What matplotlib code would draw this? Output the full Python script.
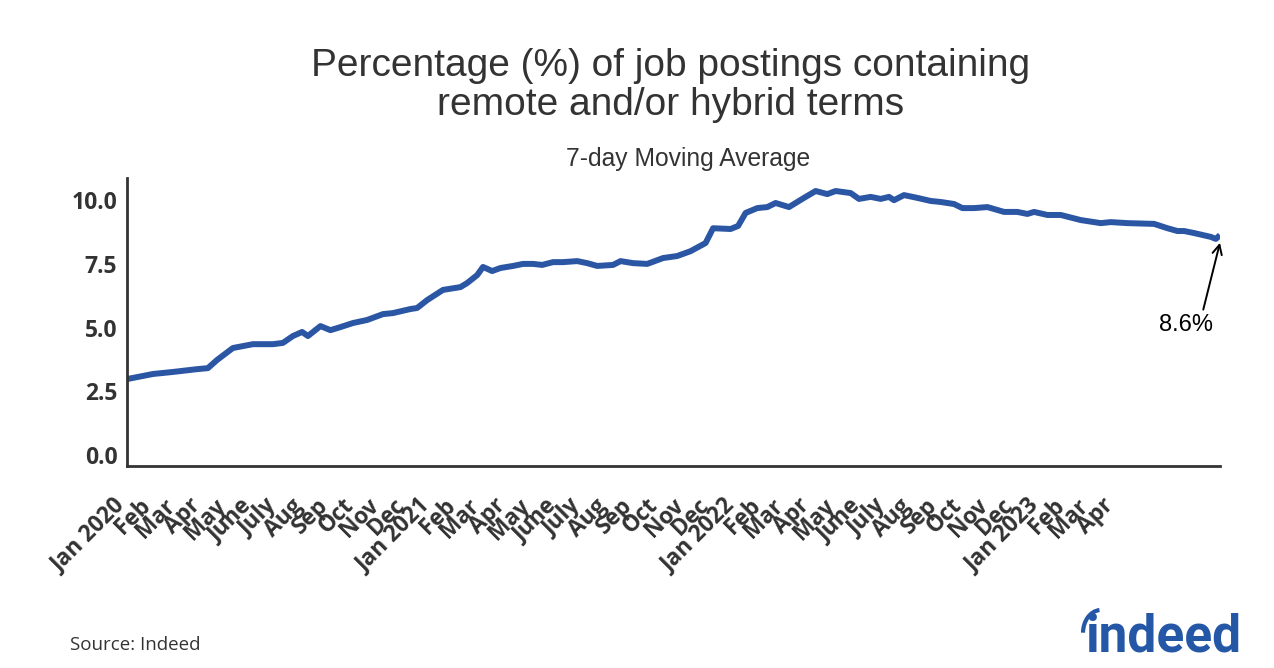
import matplotlib
matplotlib.use("Agg")
import matplotlib.pyplot as plt
import matplotlib.transforms as mtransforms
from matplotlib.patches import Arc
import pandas as pd

# 7-day moving average
dates = ["2020-01-01", "2020-02-01", "2020-02-25", "2020-03-25", "2020-04-07", "2020-04-18",
         "2020-05-07", "2020-05-31", "2020-06-24", "2020-07-06", "2020-07-18", "2020-07-29",
         "2020-08-05", "2020-08-20", "2020-09-01", "2020-09-13", "2020-09-28", "2020-10-15",
         "2020-11-03", "2020-11-15", "2020-12-06", "2020-12-14", "2020-12-26", "2021-01-14",
         "2021-02-04", "2021-02-12", "2021-02-24", "2021-03-03", "2021-03-14", "2021-03-24",
         "2021-04-08", "2021-04-20", "2021-05-02", "2021-05-13", "2021-05-26", "2021-06-07",
         "2021-06-24", "2021-07-06", "2021-07-18", "2021-08-06", "2021-08-15", "2021-08-30",
         "2021-09-16", "2021-10-05", "2021-10-22", "2021-11-07", "2021-11-25", "2021-12-04",
         "2021-12-25", "2022-01-03", "2022-01-12", "2022-01-26", "2022-02-07", "2022-02-17",
         "2022-03-05", "2022-03-23", "2022-04-06", "2022-04-20", "2022-04-30", "2022-05-18",
         "2022-05-28", "2022-06-11", "2022-06-23", "2022-07-03", "2022-07-09", "2022-07-21",
         "2022-08-06", "2022-08-22", "2022-09-03", "2022-09-19", "2022-09-29", "2022-10-13",
         "2022-10-29", "2022-11-18", "2022-12-04", "2022-12-16", "2022-12-24", "2023-01-09",
         "2023-01-25", "2023-02-18", "2023-03-14", "2023-03-26", "2023-04-15", "2023-05-17",
         "2023-06-02", "2023-06-14", "2023-06-22", "2023-07-04", "2023-07-24", "2023-07-30",
         "2023-08-04"]
share = [2.98, 3.18, 3.26, 3.37, 3.41, 3.73,
         4.20, 4.35, 4.35, 4.40, 4.67, 4.83,
         4.67, 5.06, 4.90, 5.02, 5.18, 5.30,
         5.53, 5.57, 5.73, 5.77, 6.08, 6.48,
         6.59, 6.75, 7.06, 7.38, 7.22, 7.34,
         7.42, 7.50, 7.50, 7.46, 7.57, 7.57,
         7.61, 7.53, 7.42, 7.46, 7.61, 7.53,
         7.50, 7.73, 7.81, 8.00, 8.32, 8.90,
         8.87, 8.99, 9.50, 9.69, 9.73, 9.89,
         9.73, 10.09, 10.36, 10.24, 10.36, 10.28,
         10.05, 10.13, 10.05, 10.13, 10.00, 10.20,
         10.09, 9.97, 9.93, 9.85, 9.69, 9.69,
         9.73, 9.54, 9.54, 9.46, 9.54, 9.42,
         9.42, 9.22, 9.10, 9.14, 9.10, 9.07,
         8.90, 8.79, 8.79, 8.71, 8.56, 8.48,
         8.63]
last_label = "8.6%"

month_names = {1: "Jan", 2: "Feb", 3: "Mar", 4: "Apr", 5: "May", 6: "June",
               7: "July", 8: "Aug", 9: "Sep", 10: "Oct", 11: "Nov", 12: "Dec"}
tick_dates = pd.date_range("2020-01-01", "2023-04-01", freq="MS")
tick_labels = [month_names[d.month] + (" %d" % d.year if d.month == 1 else "") for d in tick_dates]
yticks = [0, 2.5, 5, 7.5, 10]

x = pd.to_datetime(dates)
dark = "#333333"
blue = "#2557A7"

fig = plt.figure(figsize=(12.74, 6.68), dpi=100)
ax = fig.add_axes([0.0997, 0.3024, 0.8579, 0.4311])
ax.plot(x, share, color="#2B56A4", linewidth=4.3, solid_joinstyle="round", solid_capstyle="butt")

ax.set_xlim(x[0], x[-1])
ax.set_ylim(-0.43, 10.87)
ax.set_yticks(yticks)
ax.set_yticklabels(["%.1f" % v for v in yticks], fontfamily="Open Sans", fontweight="bold",
                   fontsize=16.5, color=dark)
ax.set_xticks(tick_dates)
ax.set_xticklabels(tick_labels, rotation=45, ha="right", rotation_mode="anchor",
                   fontfamily="Open Sans", fontweight="bold", fontsize=16.3, color=dark)
ax.tick_params(axis="both", length=0)
ax.tick_params(axis="x", pad=20)
ax.tick_params(axis="y", pad=7)
shift = mtransforms.ScaledTranslation(-14 / 100, 0, fig.dpi_scale_trans)
for lab in ax.get_xticklabels():
    lab.set_transform(lab.get_transform() + shift)
for s in ["top", "right"]:
    ax.spines[s].set_visible(False)
for s in ["left", "bottom"]:
    ax.spines[s].set_color(dark)
    ax.spines[s].set_linewidth(2)

ax.annotate(last_label, xy=(x[-1], share[-1] - 0.3), xytext=(-5, -59),
            textcoords="offset points", ha="right", va="center", fontsize=17,
            fontfamily="Liberation Sans", color="black",
            arrowprops=dict(arrowstyle="->", color="black", lw=1.4, shrinkA=1, shrinkB=0,
                            relpos=(0.8, 1.0)))

fig.text(0.526, 0.872, "Percentage (%) of job postings containing\nremote and/or hybrid terms",
         ha="center", va="center", fontsize=28, fontfamily="Liberation Sans", color=dark,
         linespacing=1.1)
fig.text(0.540, 0.762, "7-day Moving Average", ha="center", va="center", fontsize=17.7,
         fontfamily="Liberation Sans", color=dark)
fig.text(0.055, 0.035, "Source: Indeed", ha="left", va="center", fontsize=13.5,
         fontfamily="Open Sans", color=dark)
fig.text(0.974, 0.045, "indeed", ha="right", va="center", fontsize=37,
         fontfamily="Roboto", fontweight="bold", color=blue)
# swoosh over the "i" of the logo
fig.patches.append(Arc((1101 / 1274, 1 - 633 / 668), 36 / 1274, 46 / 668, theta1=92, theta2=178,
                       transform=fig.transFigure, color=blue, lw=3))

fig.savefig("out.png", dpi=100)
